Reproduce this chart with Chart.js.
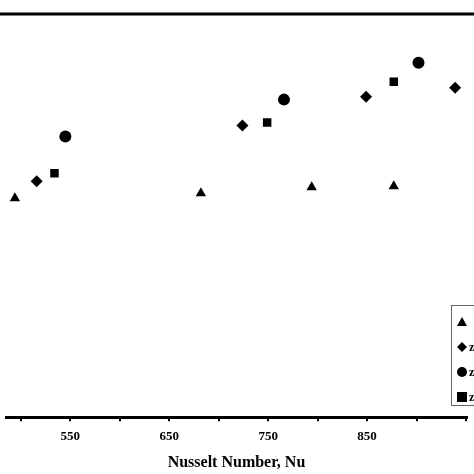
<!DOCTYPE html>
<html>
<head>
<script src="https://cdn.jsdelivr.net/npm/chart.js@4"></script>
<style>body{margin:0;background:#fff}#c{display:block}</style>
</head>
<body>
<div style="width:474px;height:474px"><canvas id="c"></canvas></div>
<script>
// values (y in arbitrary plot units)
const triX = [494, 682, 794, 877];
const triY = [220, 225, 231, 232];
const diaX = [516, 724, 849, 939];
const diaY = [237, 293, 322, 331];
const cirX = [545, 766, 902];
const cirY = [282, 319, 356];
const sqX = [534, 749, 877, 958];
const sqY = [245, 296, 337, 349];
const xTicks = [500, 550, 600, 650, 700, 750, 800, 850, 900, 950];
const labelTicks = [550, 650, 750, 850];
const seriesNames = ['z = 1', 'z = 2', 'z = 3', 'z = 4'];

const pts = (xs, ys) => xs.map((x, i) => ({ x: x, y: ys[i] }));

const frame = {
    id: 'frame',
    afterDraw(chart) {
        const ctx = chart.ctx, a = chart.chartArea;
        ctx.save();
        ctx.strokeStyle = '#000';
        ctx.lineWidth = 3;
        ctx.beginPath();
        ctx.moveTo(0, a.top); ctx.lineTo(474, a.top);
        ctx.stroke();
        // legend box, cut at the right edge like the reference
        ctx.lineWidth = 1;
        ctx.strokeStyle = '#666';
        ctx.strokeRect(451.5, 305.5, 40, 100);
        chart.data.datasets.forEach((ds, i) => {
            const y = 322 + i * 25;
            ctx.fillStyle = '#000';
            drawMarker(ctx, ds.pointStyle, 462, y);
            ctx.font = 'bold 12px "Liberation Serif"';
            ctx.textBaseline = 'middle';
            ctx.fillText(i === 0 ? '' : 'z', 469, y + 1);
        });
        ctx.restore();
    }
};

function drawMarker(ctx, style, x, y) {
    ctx.beginPath();
    if (style === 'triangle') { ctx.moveTo(x, y - 5); ctx.lineTo(x + 5, y + 4); ctx.lineTo(x - 5, y + 4); }
    else if (style === 'rectRot') { ctx.moveTo(x, y - 5); ctx.lineTo(x + 5, y); ctx.lineTo(x, y + 5); ctx.lineTo(x - 5, y); }
    else if (style === 'circle') { ctx.arc(x, y, 5, 0, Math.PI * 2); }
    else { ctx.rect(x - 5, y - 5, 10, 10); }
    ctx.closePath();
    ctx.fill();
}

new Chart(document.getElementById('c'), {
    type: 'scatter',
    data: {
        datasets: [
            { label: seriesNames[0], data: pts(triX, triY), pointStyle: 'triangle', radius: 6 },
            { label: seriesNames[1], data: pts(diaX, diaY), pointStyle: 'rectRot', radius: 6 },
            { label: seriesNames[2], data: pts(cirX, cirY), pointStyle: 'circle', radius: 6 },
            { label: seriesNames[3], data: pts(sqX, sqY), pointStyle: 'rect', radius: 6 }
        ].map(d => Object.assign(d, { backgroundColor: '#000', borderColor: '#000', borderWidth: 0 }))
    },
    options: {
        responsive: true,
        maintainAspectRatio: false,
        animation: false,
        layout: { padding: { top: 14, left: 0, right: 0 } },
        plugins: { legend: { display: false }, tooltip: { enabled: false } },
        scales: {
            x: {
                type: 'linear', min: 485, max: 951,
                afterBuildTicks: s => { s.ticks = xTicks.map(v => ({ value: v })); },
                border: { color: '#000', width: 3 },
                grid: { drawOnChartArea: false, color: '#000', tickLength: 4, lineWidth: 2 },
                ticks: {
                    color: '#000', padding: 8,
                    font: { family: 'Liberation Serif', weight: 'bold', size: 13 },
                    callback: v => labelTicks.includes(v) ? String(v) : ''
                },
                title: {
                    display: true, text: 'Nusselt Number, Nu', color: '#000', padding: { top: 0, bottom: 2 },
                    font: { family: 'Liberation Serif', weight: 'bold', size: 16 }
                }
            },
            y: { display: false, min: 0, max: 405 }
        }
    },
    plugins: [frame]
});
</script>
</body>
</html>
